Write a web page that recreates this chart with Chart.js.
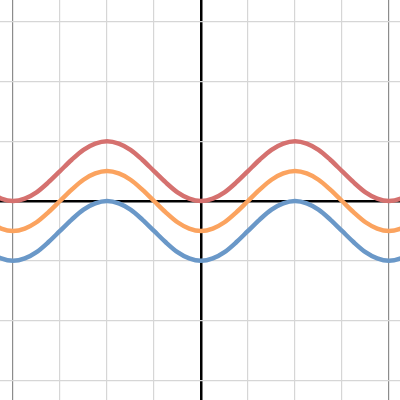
<!DOCTYPE html>
<html>
<head>
<script src="https://cdn.jsdelivr.net/npm/chart.js@4"></script>
<style>
  html, body { margin: 0; padding: 0; background: #fff; }
  #wrap { width: 400px; height: 400px; }
</style>
</head>
<body>
<div id="wrap"><canvas id="canvas"></canvas></div>
<script>
  // sample positions, in multiples of pi/8
  var steps = [-18,-17,-16,-15,-14,-13,-12,-11,-10,-9,-8,-7,-6,-5,-4,-3,-2,-1,0,
               1,2,3,4,5,6,7,8,9,10,11,12,13,14,15,16,17,18];
  var redY = [0.29,0.08,0,0.08,0.29,0.62,1,1.38,1.71,1.92,2,1.92,1.71,1.38,1,0.62,0.29,0.08,0,
              0.08,0.29,0.62,1,1.38,1.71,1.92,2,1.92,1.71,1.38,1,0.62,0.29,0.08,0,0.08,0.29];
  var orangeY = [-0.71,-0.92,-1,-0.92,-0.71,-0.38,0,0.38,0.71,0.92,1,0.92,0.71,0.38,0,-0.38,-0.71,-0.92,-1,
                 -0.92,-0.71,-0.38,0,0.38,0.71,0.92,1,0.92,0.71,0.38,0,-0.38,-0.71,-0.92,-1,-0.92,-0.71];
  var blueY = [-1.71,-1.92,-2,-1.92,-1.71,-1.38,-1,-0.62,-0.29,-0.08,0,-0.08,-0.29,-0.62,-1,-1.38,-1.71,-1.92,-2,
               -1.92,-1.71,-1.38,-1,-0.62,-0.29,-0.08,0,-0.08,-0.29,-0.62,-1,-1.38,-1.71,-1.92,-2,-1.92,-1.71];

  var ppu = 29.92;
  function pts(ys) {
    return ys.map(function (y, i) { return { x: steps[i] * Math.PI / 8, y: y }; });
  }
  function line(ys, color) {
    return { data: pts(ys), borderColor: color, borderWidth: 4.5, pointRadius: 0,
             showLine: true, cubicInterpolationMode: 'monotone', fill: false };
  }
  function near(v, t) { return Math.abs(v - t) < 1e-6; }

  new Chart(document.getElementById('canvas'), {
    type: 'scatter',
    data: { datasets: [
      line(blueY, '#6a98c8'),
      line(orangeY, '#fba35f'),
      line(redY, '#d5716f')
    ] },
    options: {
      responsive: true, maintainAspectRatio: false, animation: false,
      layout: { padding: 0 },
      plugins: { legend: { display: false }, tooltip: { enabled: false } },
      scales: {
        x: {
          type: 'linear', min: -201 / ppu, max: 199 / ppu,
          ticks: { display: false },
          border: { display: false },
          afterBuildTicks: function (s) {
            var t = [];
            for (var k = -4; k <= 4; k++) t.push({ value: k * Math.PI / 2 });
            s.ticks = t;
          },
          grid: {
            drawTicks: false, z: -1,
            color: function (c) {
              var v = c.tick.value;
              if (near(v, 0)) return '#000';
              if (near(Math.abs(v), 2 * Math.PI)) return '#8c8c8c';
              return '#d6d6d6';
            },
            lineWidth: function (c) { return near(c.tick.value, 0) ? 2.5 : 1.2; }
          }
        },
        y: {
          type: 'linear', min: -199 / ppu, max: 201 / ppu,
          ticks: { display: false },
          border: { display: false },
          afterBuildTicks: function (s) {
            var t = [];
            for (var k = -6; k <= 6; k += 2) t.push({ value: k });
            s.ticks = t;
          },
          grid: {
            drawTicks: false, z: -1,
            color: function (c) { return near(c.tick.value, 0) ? '#000' : '#d6d6d6'; },
            lineWidth: function (c) { return near(c.tick.value, 0) ? 2.5 : 1.2; }
          }
        }
      }
    }
  });
</script>
</body>
</html>
